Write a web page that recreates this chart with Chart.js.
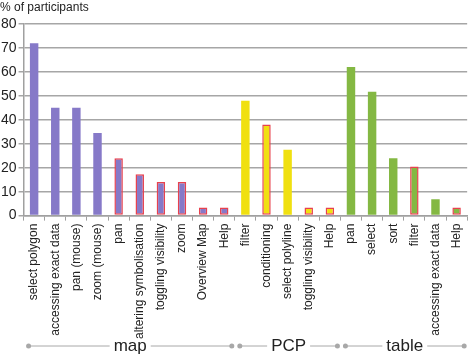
<!DOCTYPE html>
<html>
<head>
<meta charset="utf-8">
<script src="https://cdn.jsdelivr.net/npm/chart.js@4.4.0/dist/chart.umd.min.js"></script>
<style>
  html, body { margin: 0; padding: 0; background: #fff; }
  #wrap { width: 474px; height: 362px; }
</style>
</head>
<body>
<div id="wrap"><canvas id="myChart"></canvas></div>
<script>
'use strict'

// *********DATA***********

let actions = ['select polygon', 'accessing exact data', 'pan (mouse)', 'zoom (mouse)', 'pan',
  'altering symbolisation', 'toggling visibility', 'zoom', 'Overview Map', 'Help',
  'filter', 'conditioning', 'select polyline', 'toggling visibility', 'Help',
  'pan', 'select', 'sort', 'filter', 'accessing exact data', 'Help'];
let participants = [72, 45, 45, 34.5, 24, 17.3, 14, 14, 3.4, 3.4,
  48, 38, 27.5, 3.4, 3.4,
  62, 51.7, 24, 20.5, 6.8, 3.4];
// which bars are outlined in red
let outlined = [0, 0, 0, 0, 1, 1, 1, 1, 1, 1,
  0, 1, 0, 1, 1,
  0, 0, 0, 1, 0, 1];
let groupNames = ['map', 'PCP', 'table'];
let groupSizes = [10, 5, 6];
let yTicks = [0, 10, 20, 30, 40, 50, 60, 70, 80];
let yTitle = '% of participants';

// *********COLOURS**********

let groupColors = ['#8679c8', '#f0e010', '#84b843'];
let fills = [];
let borders = [];
let widths = [];
let k = 0;
for (let g = 0; g < groupSizes.length; g++) {
  for (let i = 0; i < groupSizes[g]; i++) {
    fills.push(groupColors[g]);
    borders.push(outlined[k] ? '#e8414e' : groupColors[g]);
    widths.push(outlined[k] ? 1.5 : 0);
    k++;
  }
}

let fontFamily = '"Liberation Sans", Arial, sans-serif';

// *********GROUP LABELS + TITLE PLUGIN**********

let groupPlugin = {
  id: 'groups',
  afterDraw(chart) {
    let ctx = chart.ctx;
    let xs = chart.scales.x;
    let y = 346;
    let start = 0;
    ctx.save();

    // axis title in the top left corner
    ctx.font = '12px ' + fontFamily;
    ctx.fillStyle = '#222';
    ctx.textAlign = 'left';
    ctx.textBaseline = 'middle';
    ctx.fillText(yTitle, 0, 8);

    ctx.font = '17px ' + fontFamily;
    ctx.textAlign = 'center';
    for (let g = 0; g < groupNames.length; g++) {
      let end = start + groupSizes[g] - 1;
      let half = (xs.getPixelForValue(1) - xs.getPixelForValue(0)) / 2;
      let x1 = xs.getPixelForValue(start) - half + 5;
      let x2 = xs.getPixelForValue(end) + half - 3;
      let mid = (x1 + x2) / 2;
      let tw = ctx.measureText(groupNames[g]).width + 8;
      ctx.strokeStyle = '#a8a8a8';
      ctx.lineWidth = 1;
      ctx.beginPath();
      ctx.moveTo(x1, y); ctx.lineTo(mid - tw / 2, y);
      ctx.moveTo(mid + tw / 2, y); ctx.lineTo(x2, y);
      ctx.stroke();
      ctx.fillStyle = '#a8a8a8';
      ctx.beginPath(); ctx.arc(x1, y, 2.5, 0, Math.PI * 2); ctx.fill();
      ctx.beginPath(); ctx.arc(x2, y, 2.5, 0, Math.PI * 2); ctx.fill();
      ctx.fillStyle = '#222';
      ctx.fillText(groupNames[g], mid, y);
      start = end + 1;
    }
    ctx.restore();
  }
};

// *********CHART**********

let ctx = document.getElementById('myChart');

let myChartObj = {
  type: 'bar',
  data: {
    labels: actions,
    datasets: [{
      data: participants,
      backgroundColor: fills,
      borderColor: borders,
      borderWidth: widths,
      borderSkipped: false,
      barPercentage: 0.4,
      categoryPercentage: 1
    }]
  },
  options: {
    responsive: true,
    maintainAspectRatio: false,
    animation: false,
    layout: { padding: { left: -1, right: 0, top: 24, bottom: 20 } },
    plugins: {
      legend: { display: false },
      tooltip: { enabled: false },
      title: { display: false }
    },
    scales: {
      x: {
        grid: { display: true, drawOnChartArea: false, offset: true, tickLength: 5, color: '#a0a0a0', lineWidth: 1 },
        border: { color: '#a0a0a0', width: 1.5 },
        ticks: {
          autoSkip: false, minRotation: 90, maxRotation: 90, color: '#222',
          font: { family: fontFamily, size: 12 }
        }
      },
      y: {
        min: 0,
        max: 80,
        afterBuildTicks(axis) { axis.ticks = yTicks.map(v => ({ value: v })); },
        grid: { color: '#a6a6a6', lineWidth: 1.5, tickLength: 5 },
        border: { color: '#a0a0a0', width: 1.5 },
        ticks: {
          color: '#222', padding: 2,
          font: { family: fontFamily, size: 14 }
        }
      }
    }
  },
  plugins: [groupPlugin]
};

new Chart(ctx, myChartObj);
</script>
</body>
</html>
